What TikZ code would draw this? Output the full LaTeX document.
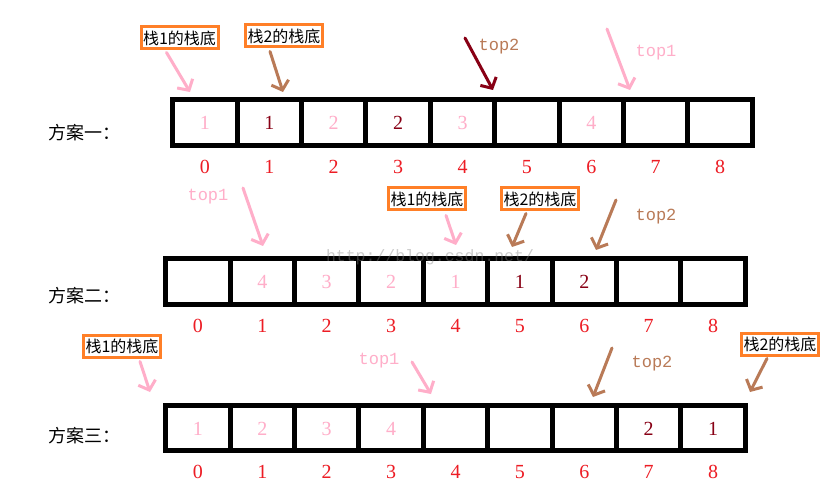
\documentclass[tikz,border=0pt]{standalone}
\usepackage{fontspec}
\setmainfont{Liberation Serif}
\setmonofont{Liberation Mono}
\newfontfamily\cjk{Noto Sans CJK SC}
\usepackage{tikz}
\usetikzlibrary{arrows.meta, positioning, matrix}
\usepackage{xcolor}
\definecolor{pinkc}{HTML}{FFAEC9}
\definecolor{brownc}{HTML}{B97A57}
\definecolor{darkc}{HTML}{880015}
\definecolor{orangec}{HTML}{FF7F27}
\definecolor{idxc}{HTML}{ED1C24}
\tikzset{%
	array cell/.style={
		draw,
		line width=5pt,
		outer sep=0pt,
		inner sep=0pt,
		anchor=center,
		minimum width=64.4pt,
		minimum height=46pt,
		text height=14pt,
		text depth=0pt,
		font=\fontsize{20}{20}\selectfont
	},
	index cell/.style={
		inner sep=0pt,
		anchor=center,
		minimum width=64.4pt,
		text height=14pt,
		text depth=0pt,
		text=idxc,
		font=\fontsize{20}{20}\selectfont
	},
	stack one/.style={text=pinkc},
	stack two/.style={text=darkc},
	bottom box/.style={
		draw=orangec,
		line width=3pt,
		fill=white,
		inner sep=0pt,
		minimum width=77pt,
		minimum height=22pt,
		font=\cjk\fontsize{16}{16}\selectfont
	},
	scheme/.style={font=\cjk\fontsize{18}{18}\selectfont},
	top label/.style={font=\ttfamily\fontsize{17}{17}\selectfont},
	pointer/.style={
		line width=3pt,
		line cap=round,
		line join=round,
		-{Straight Barb[length=8pt,width=18pt]}
	},
}

\begin{document}
\begin{tikzpicture}[x=1pt,y=-1pt]
			\path[use as bounding box, fill=white] (0,0) rectangle (840,494);
			
			% Scheme one: both stacks growing to the right
			\node[scheme] (s1) at (84,133) {方案一：};
			\matrix[matrix of nodes, nodes in empty cells, inner sep=0pt, column sep=-5pt, nodes={array cell}] (m1) at (462.5,122.5) {
				|[stack one]| 1 & |[stack two]| 1 & |[stack one]| 2 & |[stack two]| 2 & |[stack one]| 3 & & |[stack one]| 4 & & \\
			};
			\matrix[matrix of nodes, inner sep=0pt, column sep=0pt, nodes={index cell}] (i1) at (462.5,167) {
				|[xshift=-13pt]| 0 & 1 & 2 & 3 & 4 & 5 & 6 & 7 & 8 \\
			};
			\node[bottom box] (b11) at (179.5,38) {栈1的栈底};
			\node[bottom box] (b12) at (284,36) {栈2的栈底};
			\node[top label, text=brownc] (t12) at (499,47) {top2};
			\node[top label, text=pinkc] (t11) at (656,53) {top1};
			\coordinate (p11) at (190,92);
			\coordinate (p12) at (283,92);
			\coordinate (q13) at (465,38);
			\coordinate (p13) at (493,90);
			\coordinate (q14) at (607,29);
			\coordinate (p14) at (630,90);
			\draw[pointer, pinkc] ([xshift=-13pt,yshift=-2pt]b11.south) -- (p11);
			\draw[pointer, brownc] ([xshift=-14pt,yshift=-3pt]b12.south) -- (p12);
			\draw[pointer, darkc] (q13) -- (p13);
			\draw[pointer, pinkc] (q14) -- (p14);
			
			% Scheme two: stacks growing towards both ends
			\node[scheme] (s2) at (84,296) {方案二：};
			\matrix[matrix of nodes, nodes in empty cells, inner sep=0pt, column sep=-5pt, nodes={array cell}] (m2) at (455.5,281.5) {
				& |[stack one]| 4 & |[stack one]| 3 & |[stack one]| 2 & |[stack one]| 1 & |[stack two]| 1 & |[stack two]| 2 & & \\
			};
			\matrix[matrix of nodes, inner sep=0pt, column sep=0pt, nodes={index cell}] (i2) at (455.5,325) {
				|[xshift=-13pt]| 0 & 1 & 2 & 3 & 4 & 5 & 6 & 7 & 8 \\
			};
			\node[top label, text=pinkc] (t21) at (208,197) {top1};
			\node[bottom box] (b21) at (427,199) {栈1的栈底};
			\node[bottom box] (b22) at (540,199) {栈2的栈底};
			\node[top label, text=brownc] (t22) at (656,217) {top2};
			\node[top label, text=gray, opacity=0.4, font=\ttfamily\fontsize{16.5}{16.5}\selectfont] (wm) at (430,257) {http://blog.csdn.net/};
			\coordinate (q21) at (243,188);
			\coordinate (p21) at (263,246);
			\coordinate (p22) at (456,245);
			\coordinate (p23) at (512,247);
			\coordinate (q24) at (616,200);
			\coordinate (p24) at (596,250);
			\draw[pointer, pinkc] (q21) -- (p21);
			\draw[pointer, pinkc] ([xshift=19pt,yshift=-4pt]b21.south) -- (p22);
			\draw[pointer, brownc] ([xshift=-14pt,yshift=-2pt]b22.south) -- (p23);
			\draw[pointer, brownc] (q24) -- (p24);
			
			% Scheme three: stack 2 starting at the right end
			\node[scheme] (s3) at (84,436) {方案三：};
			\matrix[matrix of nodes, nodes in empty cells, inner sep=0pt, column sep=-5pt, nodes={array cell, minimum height=45pt}] (m3) at (455.5,428) {
				|[stack one]| 1 & |[stack one]| 2 & |[stack one]| 3 & |[stack one]| 4 & & & & |[stack two]| 2 & |[stack two]| 1 \\
			};
			\matrix[matrix of nodes, inner sep=0pt, column sep=0pt, nodes={index cell}] (i3) at (455.5,471) {
				|[xshift=-13pt]| 0 & 1 & 2 & 3 & 4 & 5 & 6 & 7 & 8 \\
			};
			\node[bottom box] (b31) at (122,346) {栈1的栈底};
			\node[top label, text=pinkc] (t31) at (379,361) {top1};
			\node[top label, text=brownc] (t32) at (652,364) {top2};
			\node[bottom box] (b32) at (780,344) {栈2的栈底};
			\coordinate (p31) at (150,392);
			\coordinate (q32) at (412,362);
			\coordinate (p32) at (431,394);
			\coordinate (q33) at (612,348);
			\coordinate (p33) at (593,397);
			\coordinate (p34) at (750,392);
			\draw[pointer, pinkc] ([xshift=18pt,yshift=-3pt]b31.south) -- (p31);
			\draw[pointer, brownc] ([xshift=-13pt,yshift=-2pt]b32.south) -- (p34);
			\draw[pointer, pinkc] (q32) -- (p32);
			\draw[pointer, brownc] (q33) -- (p33);
		\end{tikzpicture}
\end{document}
